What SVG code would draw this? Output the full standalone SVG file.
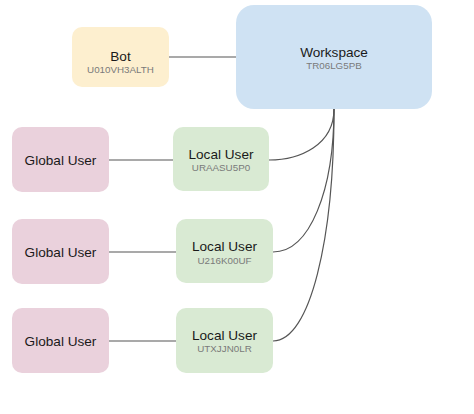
<svg xmlns="http://www.w3.org/2000/svg" width="474" height="414" viewBox="0 0 474 414">
<style>
.t{font-family:"Liberation Sans",Arial,sans-serif;font-size:13.6px;fill:#1a1a1a;text-anchor:middle}
.s{font-family:"Liberation Sans",Arial,sans-serif;font-size:9.8px;fill:#7a7a7a;text-anchor:middle}
.c{fill:none;stroke:#555;stroke-width:1.2}
.bot{fill:#fdefcf}
.ws{fill:#cfe2f3}
.gu{fill:#ead1dc}
.lu{fill:#d9ead3}
</style>
<rect width="474" height="414" fill="#ffffff"/>
<g id="connectors">
<line class="c" x1="169" y1="57" x2="236" y2="57"/>
<line class="c" x1="109" y1="160" x2="173" y2="160"/>
<line class="c" x1="109" y1="252" x2="176" y2="252"/>
<line class="c" x1="109" y1="341" x2="176" y2="341"/>
<path class="c" d="M334,109 C334,145 300,160 269,160"/>
<path class="c" d="M334,109 C334,190 310,252 273,252"/>
<path class="c" d="M334,109 C334,240 310,341 273,341"/>
</g>
<g id="bot">
<rect class="bot" x="72" y="27" width="97" height="60" rx="10"/>
<text class="t" x="120.5" y="61">Bot</text>
<text class="s" x="120.5" y="73">U010VH3ALTH</text>
</g>
<g id="workspace">
<rect class="ws" x="236" y="5" width="196" height="104" rx="18"/>
<text class="t" x="334" y="57">Workspace</text>
<text class="s" x="334" y="69">TR06LG5PB</text>
</g>
<g id="global1">
<rect class="gu" x="12" y="127" width="97" height="65" rx="10"/>
<text class="t" x="60.5" y="165">Global User</text>
</g>
<g id="local1">
<rect class="lu" x="173" y="127" width="96" height="64" rx="10"/>
<text class="t" x="221" y="159">Local User</text>
<text class="s" x="221" y="171">URAASU5P0</text>
</g>
<g id="global2">
<rect class="gu" x="12" y="219" width="97" height="65" rx="10"/>
<text class="t" x="60.5" y="257">Global User</text>
</g>
<g id="local2">
<rect class="lu" x="176" y="219" width="97" height="64" rx="10"/>
<text class="t" x="224.5" y="251">Local User</text>
<text class="s" x="224.5" y="264">U216K00UF</text>
</g>
<g id="global3">
<rect class="gu" x="12" y="308" width="97" height="65" rx="10"/>
<text class="t" x="60.5" y="346">Global User</text>
</g>
<g id="local3">
<rect class="lu" x="176" y="308" width="97" height="65" rx="10"/>
<text class="t" x="224.5" y="340">Local User</text>
<text class="s" x="224.5" y="352">UTXJJN0LR</text>
</g>
</svg>
